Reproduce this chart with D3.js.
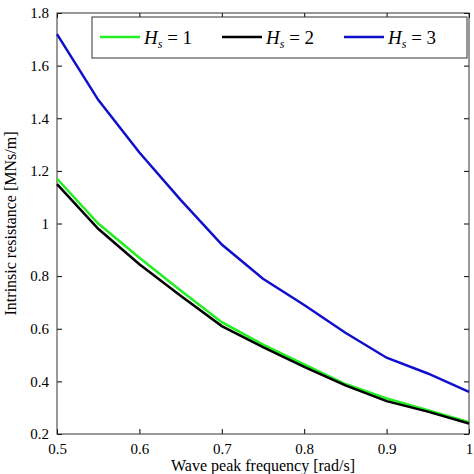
<!DOCTYPE html>
<html><head><meta charset="utf-8">
<script src="https://cdn.jsdelivr.net/npm/d3@7"></script>
<style>body{margin:0;background:#fff}</style>
</head><body><div id="chart"></div>
<script>
const freq = [0.5,0.55,0.6,0.65,0.7,0.75,0.8,0.85,0.9,0.95,1];
const hs1 = [1.17,1.00,0.87,0.745,0.625,0.54,0.465,0.39,0.335,0.29,0.245];
const hs2 = [1.15,0.98,0.845,0.725,0.61,0.53,0.455,0.385,0.325,0.285,0.24];
const hs3 = [1.72,1.47,1.27,1.09,0.92,0.79,0.69,0.585,0.49,0.43,0.36];
const names = ["1","2","3"];
const colors = ["#22ee22","#000000","#1010cc"];
const xTicks = [0.5,0.6,0.7,0.8,0.9,1];
const yTicks = [0.2,0.4,0.6,0.8,1,1.2,1.4,1.6,1.8];

const W=474,H=474,L=57,R=469,T=13,B=434;
const FONT="'Liberation Serif','DejaVu Serif',serif";
const svg=d3.select("#chart").append("svg").attr("width",W).attr("height",H)
  .style("font-family",FONT);
const x=d3.scaleLinear().domain([0.5,1]).range([L,R]);
const y=d3.scaleLinear().domain([0.2,1.8]).range([B,T]);

svg.append("g").attr("transform",`translate(0,${B})`)
  .call(d3.axisBottom(x).tickValues(xTicks).tickFormat(d3.format("")).tickSizeInner(-5).tickSizeOuter(0).tickPadding(6))
  .call(g=>{g.attr("font-family",FONT).attr("font-size",15);g.select(".domain").remove();g.selectAll("text").attr("dy","0.9em");});
svg.append("g").attr("transform",`translate(0,${T})`)
  .call(d3.axisTop(x).tickValues(xTicks).tickFormat("").tickSizeInner(-5).tickSizeOuter(0))
  .call(g=>g.select(".domain").remove());
svg.append("g").attr("transform",`translate(${L},0)`)
  .call(d3.axisLeft(y).tickValues(yTicks).tickFormat(d3.format("")).tickSizeInner(-5).tickSizeOuter(0).tickPadding(8))
  .call(g=>{g.attr("font-family",FONT).attr("font-size",15);g.select(".domain").remove();});
svg.append("g").attr("transform",`translate(${R},0)`)
  .call(d3.axisRight(y).tickValues(yTicks).tickFormat("").tickSizeInner(-5).tickSizeOuter(0))
  .call(g=>g.select(".domain").remove());
svg.append("rect").attr("x",L).attr("y",T).attr("width",R-L).attr("height",B-T)
  .attr("fill","none").attr("stroke","#333");

const line=d3.line().x((d,i)=>x(freq[i])).y(d=>y(d));
[hs1,hs2,hs3].forEach((s,i)=>svg.append("path").datum(s).attr("d",line)
  .attr("fill","none").attr("stroke",colors[i]).attr("stroke-width",2.5));

svg.append("text").attr("x",(L+R)/2).attr("y",471).attr("text-anchor","middle")
  .attr("font-size",16).text("Wave peak frequency [rad/s]");
svg.append("text").attr("transform",`translate(16,${(T+B)/2}) rotate(-90)`).attr("text-anchor","middle")
  .attr("font-size",16).text("Intrinsic resistance [MNs/m]");

const lg=svg.append("g");
lg.append("rect").attr("x",92).attr("y",17).attr("width",375).attr("height",41)
  .attr("fill","#fff").attr("stroke","#333");
const lx=[100,222,344];
names.forEach((n,i)=>{
  lg.append("line").attr("x1",lx[i]).attr("x2",lx[i]+40).attr("y1",37).attr("y2",37)
    .attr("stroke",colors[i]).attr("stroke-width",2.5);
  const t=lg.append("text").attr("x",lx[i]+44).attr("y",44).attr("font-size",19);
  t.append("tspan").attr("font-style","italic").text("H");
  t.append("tspan").attr("font-style","italic").attr("font-size",12).attr("dy",4).text("s");
  t.append("tspan").attr("dy",-4).text(" = "+n);
});
</script></body></html>
